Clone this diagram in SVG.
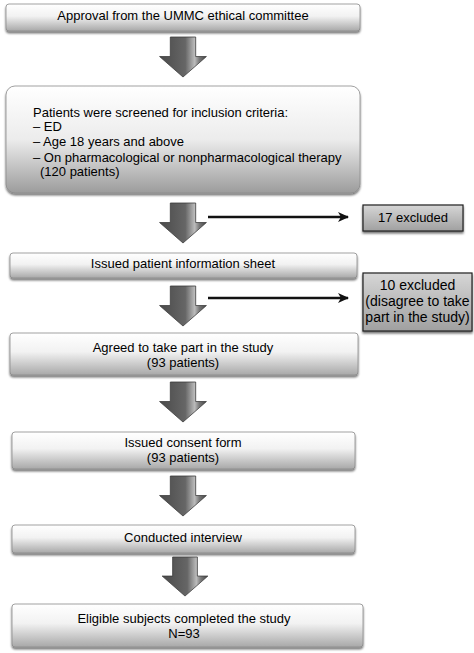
<svg xmlns="http://www.w3.org/2000/svg" width="474" height="653" viewBox="0 0 474 653">
<defs>
<linearGradient id="boxg" x1="0" y1="0" x2="0" y2="1">
<stop offset="0" stop-color="#ffffff"/>
<stop offset="0.45" stop-color="#f2f2f2"/>
<stop offset="1" stop-color="#a8a8a8"/>
</linearGradient>
<linearGradient id="bigg" x1="0" y1="0" x2="0" y2="1">
<stop offset="0" stop-color="#ffffff"/>
<stop offset="0.5" stop-color="#ececec"/>
<stop offset="1" stop-color="#9c9c9c"/>
</linearGradient>
<linearGradient id="exg" x1="0" y1="0" x2="0" y2="1">
<stop offset="0" stop-color="#d6d6d6"/>
<stop offset="1" stop-color="#a0a0a0"/>
</linearGradient>
<linearGradient id="arrg" x1="0" y1="0" x2="1" y2="0">
<stop offset="0" stop-color="#4a4a4a"/>
<stop offset="0.55" stop-color="#666"/>
<stop offset="0.75" stop-color="#bbb"/>
<stop offset="0.85" stop-color="#777"/>
<stop offset="1" stop-color="#444"/>
</linearGradient>
<filter id="sh" x="-5%" y="-20%" width="110%" height="150%">
<feDropShadow dx="0" dy="2" stdDeviation="1.2" flood-color="#000" flood-opacity="0.55"/>
</filter>
<marker id="ah" markerWidth="12" markerHeight="12" refX="10" refY="6" orient="auto" markerUnits="userSpaceOnUse">
<path d="M0,1 L11,6 L0,11 L3,6 Z" fill="#111"/>
</marker>
<symbol id="bigarrow" viewBox="0 0 50 42" overflow="visible">
<path d="M12,0 H38 V20 H49 L25,41 L1,20 H12 Z" fill="url(#arrg)" stroke="#3a3a3a" stroke-width="0.8"/>
</symbol>
</defs>
<style>
text{font-family:"Liberation Sans",Arial,sans-serif;font-size:13px;fill:#000}
.c{text-anchor:middle}
.big{font-size:14px}
.box{fill:url(#boxg);stroke:#8a8a8a;stroke-width:0.8;filter:url(#sh)}
.ex{fill:url(#exg);stroke:#222;stroke-width:1.2;filter:url(#sh)}
.conn{stroke:#111;stroke-width:2.5;fill:none}
</style>
<rect width="474" height="653" fill="#fff"/>

<g id="n1"><rect class="box" x="6" y="4" width="354" height="27" rx="3"/><text class="c" x="183" y="20">Approval from the UMMC ethical committee</text></g>

<g id="n2"><rect class="box" x="6" y="86" width="354" height="107" rx="9" style="fill:url(#bigg)"/>
<text x="33" y="117">Patients were screened for inclusion criteria:</text>
<text x="33" y="131">– ED</text>
<text x="33" y="146">– Age 18 years and above</text>
<text x="33" y="162">– On pharmacological or nonpharmacological therapy</text>
<text x="40" y="176">(120 patients)</text></g>

<g id="ex1"><rect class="ex" x="363" y="205" width="100" height="26"/><text class="c" x="413" y="222">17 excluded</text></g>

<g id="n3"><rect class="box" x="10" y="253" width="347" height="25" rx="3"/><text class="c" x="183" y="268">Issued patient information sheet</text></g>

<g id="ex2"><rect class="ex" x="363" y="273" width="109" height="58"/>
<text class="c big" x="417.5" y="290">10 excluded</text>
<text class="c big" x="417.5" y="306">(disagree to take</text>
<text class="c big" x="417.5" y="322">part in the study)</text></g>

<g id="n4"><rect class="box" x="10" y="333" width="348" height="42" rx="3"/>
<text class="c" x="183" y="352">Agreed to take part in the study</text>
<text class="c" x="183" y="367">(93 patients)</text></g>

<g id="n5"><rect class="box" x="12" y="432" width="343" height="37" rx="3"/>
<text class="c" x="183" y="447">Issued consent form</text>
<text class="c" x="183" y="462">(93 patients)</text></g>

<g id="n6"><rect class="box" x="12" y="525" width="343" height="28" rx="3"/><text class="c" x="183" y="542">Conducted interview</text></g>

<g id="n7"><rect class="box" x="12" y="604" width="351" height="43" rx="3"/>
<text class="c" x="184" y="623">Eligible subjects completed the study</text>
<text class="c" x="184" y="638">N=93</text></g>

<g id="connectors">
<use href="#bigarrow" x="158" y="37" width="50" height="41"/>
<use href="#bigarrow" x="158" y="203" width="50" height="41"/>
<use href="#bigarrow" x="158" y="286" width="50" height="41"/>
<use href="#bigarrow" x="158" y="382" width="50" height="41"/>
<use href="#bigarrow" x="158" y="476" width="50" height="41"/>
<use href="#bigarrow" x="160" y="557" width="50" height="40"/>
<line class="conn" x1="208" y1="217" x2="348" y2="217" marker-end="url(#ah)"/>
<line class="conn" x1="208" y1="298" x2="348" y2="298" marker-end="url(#ah)"/>
</g>
</svg>
